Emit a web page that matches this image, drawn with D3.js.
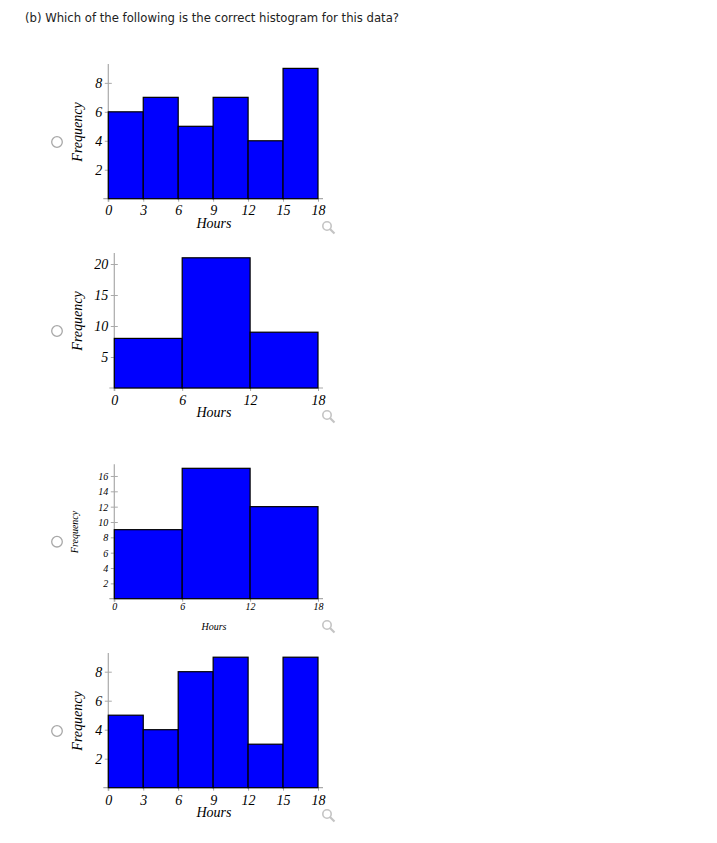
<!DOCTYPE html>
<html>
<head>
<meta charset="utf-8">
<script src="https://cdn.jsdelivr.net/npm/d3@7"></script>
<style>
  html, body { margin: 0; padding: 0; background: #fff; }
  svg { display: block; }
</style>
</head>
<body>
<svg id="page" width="717" height="843"></svg>
<script>
const titleText = "(b) Which of the following is the correct histogram for this data?";
const xLabel = "Hours";
const yLabel = "Frequency";

const binEdges3 = [0, 3, 6, 9, 12, 15, 18];
const binEdges6 = [0, 6, 12, 18];

const countsA = [6, 7, 5, 7, 4, 9];
const countsB = [8, 21, 9];
const countsC = [9, 17, 12];
const countsD = [5, 4, 8, 9, 3, 9];

const yTicksA = [2, 4, 6, 8];
const yTicksB = [5, 10, 15, 20];
const yTicksC = [2, 4, 6, 8, 10, 12, 14, 16];
const yTicksD = [2, 4, 6, 8];

// layout of each option, in page pixels
const panels = [
  { edges: binEdges3, counts: countsA, yTicks: yTicksA, left: 108.3, base: 198.7, unit: 14.48, top: 64, font: 14, tickY: 215, ylabX: 82, ylabY: 132, xlabY: 228, radioY: 142, lensY: 226 },
  { edges: binEdges6, counts: countsB, yTicks: yTicksB, left: 114.3, base: 388, unit: 6.2, top: 253, font: 14, tickY: 405, ylabX: 82, ylabY: 321, xlabY: 416.7, radioY: 331, lensY: 415 },
  { edges: binEdges6, counts: countsC, yTicks: yTicksC, left: 114.3, base: 598.7, unit: 7.67, top: 464.3, font: 10, tickY: 610, ylabX: 78, ylabY: 532, xlabY: 629.7, radioY: 541.7, lensY: 625 },
  { edges: binEdges3, counts: countsD, yTicks: yTicksD, left: 108.3, base: 787.7, unit: 14.5, top: 653, font: 14, tickY: 805, ylabX: 82, ylabY: 721, xlabY: 816.7, radioY: 731, lensY: 814 }
];
const right = 318;
const axisGrey = "#aaaaaa";
const serif = "'Liberation Serif', serif";

const svg = d3.select("#page");

svg.append("text")
  .text(titleText)
  .attr("x", 25)
  .attr("y", 22)
  .attr("font-family", "'DejaVu Sans', sans-serif")
  .attr("font-size", 12)
  .attr("textLength", 374)
  .attr("lengthAdjust", "spacingAndGlyphs")
  .attr("fill", "#222");

function drawPanel(p) {
  const x = d3.scaleLinear().domain([0, 18]).range([p.left, right]);
  const y = d3.scaleLinear().domain([0, 1]).range([p.base, p.base - p.unit]);
  const g = svg.append("g");

  // axes first, the bars sit over them
  const xAxis = g.append("g")
    .attr("transform", `translate(0,${p.base})`)
    .call(d3.axisBottom(x).tickValues(p.edges).tickSize(3).tickSizeOuter(0).tickFormat(d3.format("d")));
  xAxis.select(".domain").remove();
  xAxis.selectAll(".tick line").attr("stroke", axisGrey);
  xAxis.selectAll(".tick text")
    .attr("y", p.tickY - p.base)
    .attr("dy", 0)
    .attr("font-family", serif)
    .style("font-style", "italic")
    .attr("font-size", p.font)
    .attr("fill", "#000");

  const yAxis = g.append("g")
    .attr("transform", `translate(${p.left},0)`)
    .call(d3.axisLeft(y).tickValues(p.yTicks).tickSize(3.5).tickSizeOuter(0).tickFormat(d3.format("d")));
  yAxis.select(".domain").remove();
  yAxis.selectAll(".tick line").attr("x2", 3.5).attr("x1", -3.5).attr("stroke", axisGrey);
  yAxis.selectAll(".tick text")
    .attr("x", -6)
    .attr("dy", "0.34em")
    .attr("font-family", serif)
    .style("font-style", "italic")
    .attr("font-size", p.font)
    .attr("fill", "#000");

  // axis lines run a little past the plot
  g.append("line")
    .attr("x1", p.left - 5).attr("x2", right + 5)
    .attr("y1", p.base).attr("y2", p.base)
    .attr("stroke", axisGrey).attr("stroke-width", 1.2);
  g.append("line")
    .attr("x1", p.left).attr("x2", p.left)
    .attr("y1", p.top).attr("y2", p.base + 3)
    .attr("stroke", axisGrey).attr("stroke-width", 1.2);

  g.selectAll("rect.bar")
    .data(p.counts)
    .enter()
    .append("rect")
    .attr("class", "bar")
    .attr("x", (d, i) => x(p.edges[i]))
    .attr("y", d => y(d))
    .attr("width", (d, i) => x(p.edges[i + 1]) - x(p.edges[i]))
    .attr("height", d => p.base - y(d))
    .attr("fill", "#0000ff")
    .attr("stroke", "#000")
    .attr("stroke-width", 1.2);

  g.append("text")
    .text(xLabel)
    .attr("x", 214)
    .attr("y", p.xlabY)
    .attr("text-anchor", "middle")
    .attr("font-family", serif)
    .attr("font-style", "italic")
    .attr("font-size", p.font);

  g.append("text")
    .text(yLabel)
    .attr("transform", `translate(${p.ylabX},${p.ylabY}) rotate(-90)`)
    .attr("text-anchor", "middle")
    .attr("font-family", serif)
    .attr("font-style", "italic")
    .attr("font-size", p.font);

  // radio button
  g.append("circle")
    .attr("cx", 57).attr("cy", p.radioY).attr("r", 5.3)
    .attr("fill", "#fff").attr("stroke", "#a8a8a8").attr("stroke-width", 1.3);

  // zoom lens
  g.append("circle")
    .attr("cx", 327).attr("cy", p.lensY).attr("r", 4.2)
    .attr("fill", "#fff").attr("stroke", "#c4c4c4").attr("stroke-width", 1.6);
  g.append("line")
    .attr("x1", 330).attr("y1", p.lensY + 3)
    .attr("x2", 334.5).attr("y2", p.lensY + 7.5)
    .attr("stroke", "#c4c4c4").attr("stroke-width", 2.2);
}

panels.forEach(drawPanel);
</script>
</body>
</html>
